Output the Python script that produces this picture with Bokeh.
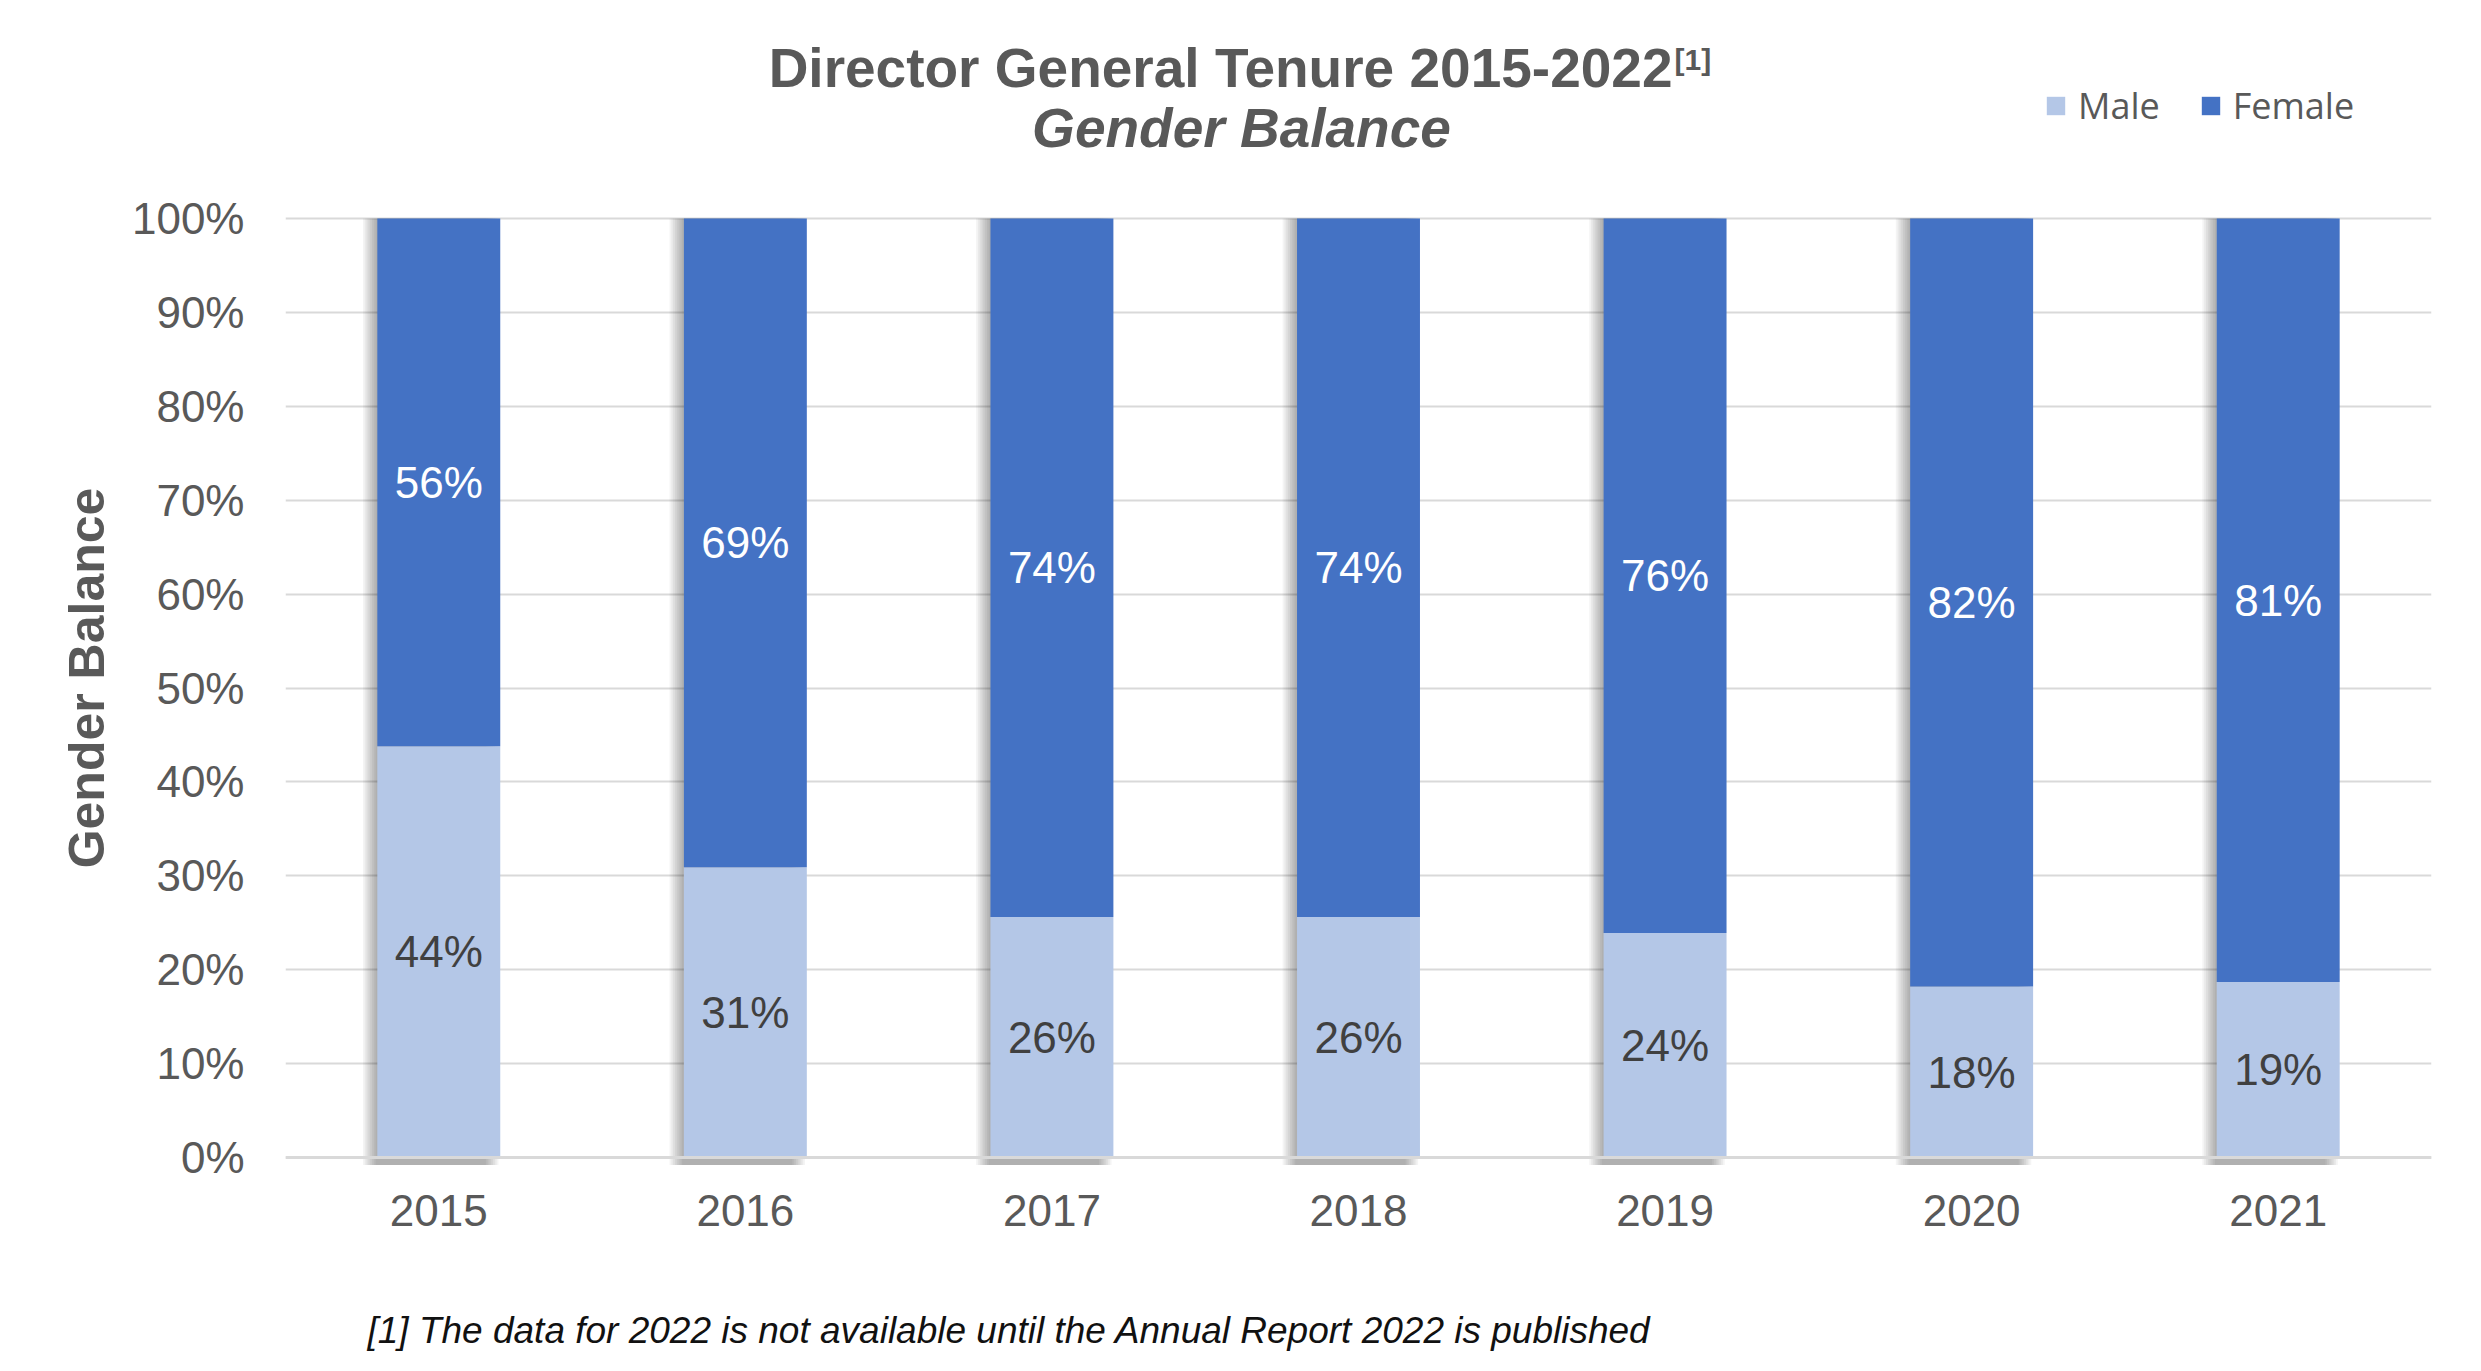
from bokeh.plotting import figure
from bokeh.models import (ColumnDataSource, FixedTicker, NumeralTickFormatter, Label,
                          LabelSet, Legend, LegendItem, Range1d)
from bokeh.transform import dodge
from bokeh.core.properties import value
from bokeh.embed import file_html
from bokeh.resources import INLINE

# ---- data ----
years = ["2015", "2016", "2017", "2018", "2019", "2020", "2021"]
male = [0.438, 0.309, 0.256, 0.256, 0.239, 0.182, 0.187]
female = [0.562, 0.691, 0.744, 0.744, 0.761, 0.818, 0.813]
series = ["Male", "Female"]
y_ticks = [0.0, 0.1, 0.2, 0.3, 0.4, 0.5, 0.6, 0.7, 0.8, 0.9, 1.0]
title_text = "Director General Tenure 2015-2022"
title_sup = "[1]"
subtitle_text = "Gender Balance"
y_title = "Gender Balance"
footnote = "[1] The data for 2022 is not available until the Annual Report 2022 is published"

MALE_C = "#B4C7E7"
FEMALE_C = "#4472C4"
GREY = "#595959"
GRID = "#D9D9D9"
FONT = "Liberation Sans"

# ---- layout geometry (pixels) ----
W, H = 2465, 1355
F_LEFT, F_RIGHT = 285, 2431          # frame x extent
Y0_PX, Y1_PX = 1157, 218             # pixel rows of 0% and 100%
px_per_unit = (Y0_PX - Y1_PX)
y_start = -(H - Y0_PX) / px_per_unit
y_end = 1 + Y1_PX / px_per_unit
LBL_FIX = 21                          # baseline correction for screen-unit labels

src = ColumnDataSource(dict(
    year=years,
    male=male,
    female=female,
    total=[m + f for m, f in zip(male, female)],
    male_mid=[m / 2 for m in male],
    female_mid=[m + f / 2 for m, f in zip(male, female)],
    male_label=["%d%%" % round(m * 100) for m in male],
    female_label=["%d%%" % round(f * 100) for f in female],
))

p = figure(x_range=years, y_range=Range1d(y_start, y_end), width=W, height=H,
           output_backend="svg", toolbar_location=None, title=None,
           min_border_left=F_LEFT, min_border_right=W - F_RIGHT, min_border_top=0,
           min_border_bottom=0)
p.outline_line_color = None
p.background_fill_color = "white"
p.border_fill_color = "white"

# bar shadows
cat_px = (F_RIGHT - F_LEFT) / 7.0
for i in range(1, 9):
    p.vbar(x=dodge("year", -i * 1.8 / cat_px, range=p.x_range), top="total",
           bottom=-0.008, width=0.401, fill_color="black", fill_alpha=0.045,
           line_color=None, source=src)

rs = p.vbar_stack(["male", "female"], x="year", width=0.401,
                  color=[MALE_C, FEMALE_C], line_color=None, source=src)

p.yaxis.ticker = FixedTicker(ticks=y_ticks)
p.yaxis.bounds = (0, 1)
p.yaxis.formatter = NumeralTickFormatter(format="0%")
p.yaxis.axis_line_color = None
p.yaxis.major_tick_line_color = None
p.yaxis.minor_tick_line_color = None
p.yaxis.major_label_text_font = FONT
p.yaxis.major_label_text_font_size = "44px"
p.yaxis.major_label_text_color = GREY
p.yaxis.major_label_standoff = 35
p.yaxis.axis_label = y_title
p.yaxis.axis_label_text_font = FONT
p.yaxis.axis_label_text_font_style = "bold"
p.yaxis.axis_label_text_font_size = "50px"
p.yaxis.axis_label_text_color = GREY
p.yaxis.axis_label_standoff = 14

p.xaxis.fixed_location = 0
p.xaxis.axis_line_color = GRID
p.xaxis.axis_line_width = 3
p.xaxis.major_tick_line_color = None
p.xaxis.minor_tick_line_color = None
p.xaxis.major_label_text_font = FONT
p.xaxis.major_label_text_font_size = "44px"
p.xaxis.major_label_text_color = GREY
p.xaxis.major_label_standoff = 31

p.xgrid.grid_line_color = None
p.ygrid.grid_line_color = GRID
p.ygrid.grid_line_width = 2

p.add_layout(LabelSet(x="year", y="male_mid", text="male_label", source=src,
                      text_align="center", text_baseline="middle", text_font=value(FONT),
                      text_font_size="44px", text_color="#404040"))
p.add_layout(LabelSet(x="year", y="female_mid", text="female_label", source=src,
                      text_align="center", text_baseline="middle", text_font=value(FONT),
                      text_font_size="44px", text_color="white"))

# legend
legend = Legend(items=[LegendItem(label=series[0], renderers=[rs[0]]),
                       LegendItem(label=series[1], renderers=[rs[1]])],
                orientation="horizontal", location=(2044 - F_LEFT, H - 130),
                glyph_width=23, glyph_height=23, label_standoff=11, spacing=39,
                padding=0, margin=0, border_line_color=None,
                background_fill_alpha=0, label_text_font="Open Sans",
                label_text_font_size="36px", label_text_color=GREY)
p.add_layout(legend)

# titles and footnote (screen units, relative to frame bottom-left)
p.add_layout(Label(x=1672 - F_LEFT, y=H - 88 + LBL_FIX, x_units="screen", y_units="screen",
                   text=title_text, text_align="right", text_baseline="alphabetic",
                   text_font=FONT, text_font_style="bold", text_font_size="55px",
                   text_color=GREY))
p.add_layout(Label(x=1674 - F_LEFT, y=H - 80 + LBL_FIX, x_units="screen", y_units="screen",
                   text=title_sup, text_align="left", text_baseline="alphabetic",
                   text_font=FONT, text_font_style="bold", text_font_size="30px",
                   text_color=GREY))
p.add_layout(Label(x=1241 - F_LEFT, y=H - 148 + LBL_FIX, x_units="screen", y_units="screen",
                   text=subtitle_text, text_align="center", text_baseline="alphabetic",
                   text_font=FONT, text_font_style="bold italic", text_font_size="55px",
                   text_color=GREY))
p.add_layout(Label(x=367 - F_LEFT, y=H - 1351 + LBL_FIX, x_units="screen", y_units="screen",
                   text=footnote, text_align="left", text_baseline="alphabetic",
                   text_font=FONT, text_font_style="italic", text_font_size="37px",
                   text_color="#111111"))

open("out.html", "w").write(file_html(p, INLINE))
